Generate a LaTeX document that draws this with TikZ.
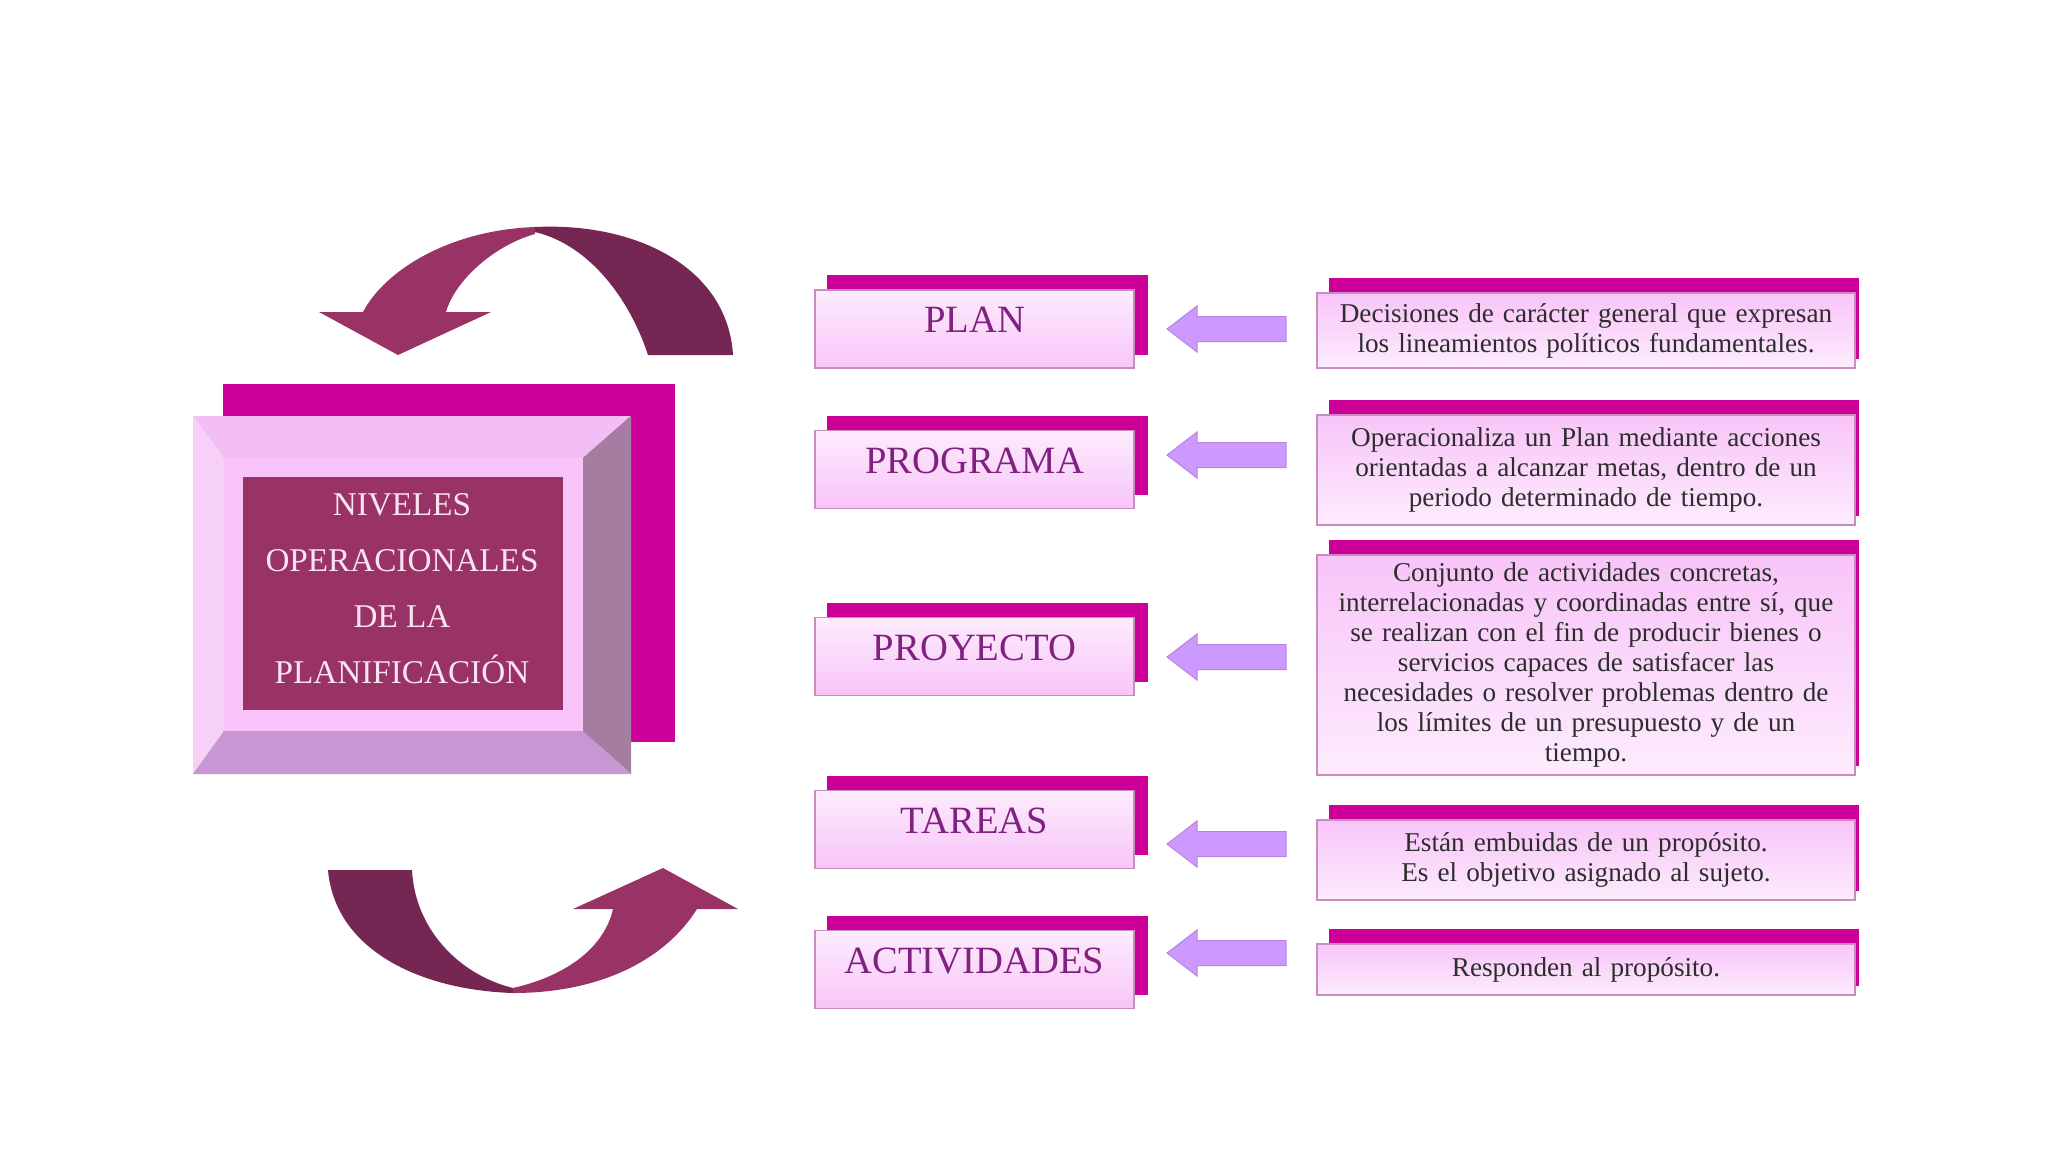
\documentclass[tikz,border=0pt]{standalone}
\usepackage{fontspec}
\setmainfont{Liberation Serif}
\usetikzlibrary{calc}
\definecolor{mag}{RGB}{204,0,153}
\definecolor{wine}{RGB}{153,51,102}
\definecolor{winedark}{RGB}{118,38,82}
\definecolor{lav}{RGB}{204,153,255}
\definecolor{lavedge}{RGB}{190,130,220}
\definecolor{pinkA}{RGB}{248,196,248}
\definecolor{pinkB}{RGB}{253,236,253}
\definecolor{edgecol}{RGB}{200,140,190}
\definecolor{titlecol}{RGB}{128,32,128}
\definecolor{desccol}{RGB}{45,45,45}
\definecolor{bevtop}{RGB}{243,190,243}
\definecolor{bevleft}{RGB}{246,208,246}
\definecolor{bevright}{RGB}{165,125,160}
\definecolor{bevbot}{RGB}{200,150,210}
\definecolor{facecol}{RGB}{249,196,249}
\definecolor{coretextcol}{RGB}{250,228,240}
\pgfdeclarelayer{background}
\pgfsetlayers{background,main}
\tikzset{
  titlebox/.style={draw=edgecol, line width=0.6pt, top color=pinkB, bottom color=pinkA,
    minimum width=159.5pt, minimum height=39pt, inner sep=0pt, text depth=9pt,
    font=\fontsize{19.3}{21}\selectfont, text=titlecol},
  descbox/.style={draw=edgecol, line width=0.6pt, top color=pinkA, bottom color=pinkB,
    minimum width=269pt, inner sep=0pt, text width=266pt, align=center,
    font=\fontsize{13.6}{15}\selectfont, text=desccol},
  backbox/.style={fill=mag},
  corebox/.style={fill=wine, minimum width=160pt, minimum height=116.5pt, inner sep=0pt},
  coretext/.style={align=center, text=coretextcol, font=\fontsize{16.6}{28}\selectfont},
  blk/.pic={\fill[lav, draw=lavedge, line width=0.5pt] (0,0) -- (30,-23) -- (30,-12.5) -- (119,-12.5) -- (119,12.5) -- (30,12.5) -- (30,23) -- cycle;}
}
\begin{document}
\begin{tikzpicture}[x=0.5pt,y=-0.5pt]
\useasboundingbox (0,0) rectangle (2048,1152);

% ---- central framed box ----
\fill[backbox] (223,384) rectangle (675,742);
\fill[bevtop] (193,416) -- (631,416) -- (583,458) -- (224,458) -- cycle;
\fill[bevleft] (193,416) -- (224,458) -- (224,731) -- (193,774) -- cycle;
\fill[bevright] (631,416) -- (631,774) -- (583,731) -- (583,458) -- cycle;
\fill[bevbot] (193,774) -- (631,774) -- (583,731) -- (224,731) -- cycle;
\fill[facecol] (224,458) rectangle (583,731);
\node[corebox] (core) at (403,593.5) {};
\node[coretext] (coretxt) at (402,589) {NIVELES\\OPERACIONALES\\DE LA\\PLANIFICACIÓN};

% ---- top curved arrow ----
\fill[winedark] (535,227) .. controls (640,222) and (728,270) .. (733,355)
  -- (648,355) .. controls (630,300) and (590,245) .. (535,232) -- cycle;
\fill[wine] (319,312) -- (363,312) .. controls (385,270) and (450,230) .. (535,227)
  -- (535,234) .. controls (495,245) and (455,280) .. (446,312)
  -- (491,312) -- (398,355) -- cycle;

% ---- bottom curved arrow ----
\fill[winedark] (328,870) -- (412,870) .. controls (415,930) and (460,975) .. (513,988)
  -- (513,993) .. controls (420,990) and (335,950) .. (328,870) -- cycle;
\fill[wine] (513,988) .. controls (570,975) and (605,945) .. (613,909)
  -- (573,909) -- (663,868) -- (738,909) -- (697,909)
  .. controls (665,960) and (600,993) .. (513,993) -- cycle;

% ---- level boxes ----
\node[titlebox] (plan) at (974.5,329) {PLAN};
\node[titlebox] (prog) at (974.5,469.5) {PROGRAMA};
\node[titlebox] (proy) at (974.5,656.5) {PROYECTO};
\node[titlebox] (tar) at (974.5,829.5) {TAREAS};
\node[titlebox] (act) at (974.5,969.5) {ACTIVIDADES};

% ---- description boxes ----
\node[descbox, minimum height=37.5pt] (d1) at (1586,330.5)
  {Decisiones de carácter general que expresan\\los lineamientos políticos fundamentales.};
\node[descbox, minimum height=55pt] (d2) at (1586,470)
  {Operacionaliza un Plan mediante acciones\\orientadas a alcanzar metas, dentro de un\\periodo determinado de tiempo.};
\node[descbox, minimum height=110pt] (d3) at (1586,665)
  {Conjunto de actividades concretas,\\interrelacionadas y coordinadas entre sí, que\\se realizan con el fin de producir bienes o\\servicios capaces de satisfacer las\\necesidades o resolver problemas dentro de\\los límites de un presupuesto y de un\\tiempo.};
\node[descbox, minimum height=40pt] (d4) at (1586,860)
  {Están embuidas de un propósito.\\Es el objetivo asignado al sujeto.};
\node[descbox, minimum height=25.5pt] (d5) at (1586,969.5)
  {Responden al propósito.};

\begin{pgfonlayer}{background}
\fill[white] (0,0) rectangle (2048,1152);
\foreach \n in {plan,prog,proy,tar,act}{
  \fill[backbox] ([xshift=6.5pt,yshift=7pt]\n.south west) rectangle ([xshift=6.5pt,yshift=7pt]\n.north east);
}
\foreach \n in {d1,d2,d3,d4,d5}{
  \fill[backbox] ([xshift=6.5pt,yshift=7pt]\n.north west) rectangle ([xshift=1.5pt,yshift=5pt]\n.south east);
}
\end{pgfonlayer}

% ---- block arrows ----
\pic (a1) at (1167,329) {blk};
\pic (a2) at (1167,455) {blk};
\pic (a3) at (1167,657) {blk};
\pic (a4) at (1167,844) {blk};
\pic (a5) at (1167,953) {blk};
\end{tikzpicture}
\end{document}
